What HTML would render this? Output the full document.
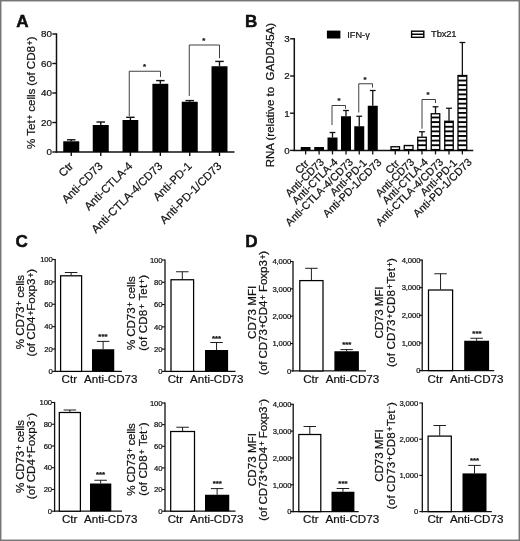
<!DOCTYPE html>
<html lang="en"><head><meta charset="utf-8"><title>Figure</title>
<style>
html,body{margin:0;padding:0;background:#fff;}
body{width:520px;height:541px;overflow:hidden;position:relative;}
svg{position:absolute;left:0;top:0;display:block;}
svg text{font-family:"Liberation Sans",Arial,Helvetica,sans-serif;stroke:#111;stroke-width:0.22px;}
</style></head><body>
<svg width="520" height="541" viewBox="0 0 520 541">
<rect x="0" y="0" width="520" height="541" fill="#fff"/>
<text x="16.20" y="26.70" font-size="17.1" text-anchor="start" font-weight="bold" fill="#111" style="stroke:#000;stroke-width:0.45px">A</text>
<line x1="56.50" y1="33.30" x2="56.50" y2="152.70" stroke="#111" stroke-width="1.5" />
<line x1="55.80" y1="152.00" x2="234.50" y2="152.00" stroke="#111" stroke-width="1.5" />
<line x1="52.30" y1="152.00" x2="56.50" y2="152.00" stroke="#111" stroke-width="1.4" />
<text x="52.00" y="155.40" font-size="9.8" text-anchor="end" fill="#111" >0</text>
<line x1="52.30" y1="122.50" x2="56.50" y2="122.50" stroke="#111" stroke-width="1.4" />
<text x="52.00" y="125.90" font-size="9.8" text-anchor="end" fill="#111" >20</text>
<line x1="52.30" y1="93.00" x2="56.50" y2="93.00" stroke="#111" stroke-width="1.4" />
<text x="52.00" y="96.40" font-size="9.8" text-anchor="end" fill="#111" >40</text>
<line x1="52.30" y1="63.50" x2="56.50" y2="63.50" stroke="#111" stroke-width="1.4" />
<text x="52.00" y="66.90" font-size="9.8" text-anchor="end" fill="#111" >60</text>
<line x1="52.30" y1="34.00" x2="56.50" y2="34.00" stroke="#111" stroke-width="1.4" />
<text x="52.00" y="37.40" font-size="9.8" text-anchor="end" fill="#111" >80</text>
<text transform="translate(34.70,92.80) rotate(-90)" font-size="11.7" text-anchor="middle" fill="#111" textLength="112.3" lengthAdjust="spacing">% Tet<tspan font-size="8.2" dy="-1.8" dx="0.9">+</tspan><tspan dy="1.8" font-size="0.1">&#160;</tspan> cells (of CD8<tspan font-size="8.2" dy="-1.8" dx="0.9">+</tspan><tspan dy="1.8" font-size="0.1">&#160;</tspan>)</text>
<line x1="71.25" y1="139.80" x2="71.25" y2="141.30" stroke="#111" stroke-width="1.4" />
<line x1="67.00" y1="139.80" x2="75.50" y2="139.80" stroke="#111" stroke-width="1.4" />
<rect x="63.25" y="141.30" width="16.00" height="10.70" fill="#000"/>
<line x1="71.25" y1="152.00" x2="71.25" y2="156.00" stroke="#111" stroke-width="1.4" />
<text transform="translate(74.05,166.70) rotate(-45)" font-size="11.4" text-anchor="end" fill="#111" >Ctr</text>
<line x1="100.75" y1="122.00" x2="100.75" y2="125.00" stroke="#111" stroke-width="1.4" />
<line x1="96.50" y1="122.00" x2="105.00" y2="122.00" stroke="#111" stroke-width="1.4" />
<rect x="92.75" y="125.00" width="16.00" height="27.00" fill="#000"/>
<line x1="100.75" y1="152.00" x2="100.75" y2="156.00" stroke="#111" stroke-width="1.4" />
<text transform="translate(103.55,166.70) rotate(-45)" font-size="11.4" text-anchor="end" fill="#111" >Anti-CD73</text>
<line x1="130.40" y1="117.30" x2="130.40" y2="120.00" stroke="#111" stroke-width="1.4" />
<line x1="126.15" y1="117.30" x2="134.65" y2="117.30" stroke="#111" stroke-width="1.4" />
<rect x="122.50" y="120.00" width="15.80" height="32.00" fill="#000"/>
<line x1="130.40" y1="152.00" x2="130.40" y2="156.00" stroke="#111" stroke-width="1.4" />
<text transform="translate(133.20,166.70) rotate(-45)" font-size="11.4" text-anchor="end" fill="#111" >Anti-CTLA-4</text>
<line x1="160.35" y1="80.60" x2="160.35" y2="83.80" stroke="#111" stroke-width="1.4" />
<line x1="156.10" y1="80.60" x2="164.60" y2="80.60" stroke="#111" stroke-width="1.4" />
<rect x="152.40" y="83.80" width="15.90" height="68.20" fill="#000"/>
<line x1="160.35" y1="152.00" x2="160.35" y2="156.00" stroke="#111" stroke-width="1.4" />
<text transform="translate(163.15,166.70) rotate(-45)" font-size="11.4" text-anchor="end" fill="#111" >Anti-CTLA-4/CD73</text>
<line x1="189.75" y1="100.60" x2="189.75" y2="101.75" stroke="#111" stroke-width="1.4" />
<line x1="185.50" y1="100.60" x2="194.00" y2="100.60" stroke="#111" stroke-width="1.4" />
<rect x="181.75" y="101.75" width="16.00" height="50.25" fill="#000"/>
<line x1="189.75" y1="152.00" x2="189.75" y2="156.00" stroke="#111" stroke-width="1.4" />
<text transform="translate(192.55,166.70) rotate(-45)" font-size="11.4" text-anchor="end" fill="#111" >Anti-PD-1</text>
<line x1="219.50" y1="61.40" x2="219.50" y2="66.25" stroke="#111" stroke-width="1.4" />
<line x1="215.25" y1="61.40" x2="223.75" y2="61.40" stroke="#111" stroke-width="1.4" />
<rect x="211.50" y="66.25" width="16.00" height="85.75" fill="#000"/>
<line x1="219.50" y1="152.00" x2="219.50" y2="156.00" stroke="#111" stroke-width="1.4" />
<text transform="translate(222.30,166.70) rotate(-45)" font-size="11.4" text-anchor="end" fill="#111" >Anti-PD-1/CD73</text>
<polyline points="129.25,116.00 129.25,71.25 160.50,71.25 160.50,77.00" fill="none" stroke="#2a2a2a" stroke-width="0.9"/>
<polyline points="189.25,96.00 189.25,45.00 219.50,45.00 219.50,58.30" fill="none" stroke="#2a2a2a" stroke-width="0.9"/>
<text x="144.60" y="69.40" font-size="7.8" text-anchor="middle" font-weight="bold" fill="#111" >*</text>
<text x="203.80" y="43.20" font-size="7.8" text-anchor="middle" font-weight="bold" fill="#111" >*</text>
<text x="245.00" y="26.60" font-size="17.1" text-anchor="start" font-weight="bold" fill="#111" style="stroke:#000;stroke-width:0.45px">B</text>
<line x1="294.30" y1="38.10" x2="294.30" y2="151.10" stroke="#111" stroke-width="1.5" />
<line x1="293.60" y1="150.40" x2="473.30" y2="150.40" stroke="#111" stroke-width="1.5" />
<line x1="290.10" y1="150.40" x2="294.30" y2="150.40" stroke="#111" stroke-width="1.4" />
<text x="289.80" y="153.80" font-size="9.8" text-anchor="end" fill="#111" >0</text>
<line x1="290.10" y1="113.20" x2="294.30" y2="113.20" stroke="#111" stroke-width="1.4" />
<text x="289.80" y="116.60" font-size="9.8" text-anchor="end" fill="#111" >1</text>
<line x1="290.10" y1="76.00" x2="294.30" y2="76.00" stroke="#111" stroke-width="1.4" />
<text x="289.80" y="79.40" font-size="9.8" text-anchor="end" fill="#111" >2</text>
<line x1="290.10" y1="38.80" x2="294.30" y2="38.80" stroke="#111" stroke-width="1.4" />
<text x="289.80" y="42.20" font-size="9.8" text-anchor="end" fill="#111" >3</text>
<text transform="translate(273.90,95.10) rotate(-90)" font-size="11.5" text-anchor="middle" fill="#111" >RNA (relative to&#160; GADD45A)</text>
<defs><pattern id="hs" patternUnits="userSpaceOnUse" x="0" y="148.9" width="10" height="4.62"><rect x="0" y="0" width="10" height="4.62" fill="#fff"/><rect x="0" y="0" width="10" height="1.9" fill="#000"/></pattern></defs>
<rect x="300.75" y="147.00" width="9.75" height="3.40" fill="#000"/>
<line x1="305.62" y1="150.40" x2="305.62" y2="154.40" stroke="#111" stroke-width="1.3" />
<text transform="translate(299.40,174.43) rotate(-45)" font-size="10.7" text-anchor="start" fill="#111" textLength="14.26" lengthAdjust="spacing">Ctr</text>
<rect x="314.25" y="147.00" width="9.75" height="3.40" fill="#000"/>
<line x1="319.12" y1="150.40" x2="319.12" y2="154.40" stroke="#111" stroke-width="1.3" />
<text transform="translate(289.71,197.62) rotate(-45)" font-size="10.7" text-anchor="start" fill="#111" textLength="49.36" lengthAdjust="spacing">Anti-CD73</text>
<line x1="332.50" y1="132.50" x2="332.50" y2="137.50" stroke="#111" stroke-width="1.3" />
<line x1="329.60" y1="132.50" x2="335.40" y2="132.50" stroke="#111" stroke-width="1.3" />
<rect x="327.50" y="137.50" width="10.00" height="12.90" fill="#000"/>
<line x1="332.50" y1="150.40" x2="332.50" y2="154.40" stroke="#111" stroke-width="1.3" />
<text transform="translate(296.45,204.75) rotate(-45)" font-size="10.7" text-anchor="start" fill="#111" textLength="59.36" lengthAdjust="spacing">Anti-CTLA-4</text>
<line x1="346.00" y1="110.50" x2="346.00" y2="116.25" stroke="#111" stroke-width="1.3" />
<line x1="343.10" y1="110.50" x2="348.90" y2="110.50" stroke="#111" stroke-width="1.3" />
<rect x="341.00" y="116.25" width="10.00" height="34.15" fill="#000"/>
<line x1="346.00" y1="150.40" x2="346.00" y2="154.40" stroke="#111" stroke-width="1.3" />
<text transform="translate(289.85,226.65) rotate(-45)" font-size="10.7" text-anchor="start" fill="#111" textLength="90.19" lengthAdjust="spacing">Anti-CTLA-4/CD73</text>
<line x1="359.25" y1="116.25" x2="359.25" y2="126.25" stroke="#111" stroke-width="1.3" />
<line x1="356.35" y1="116.25" x2="362.15" y2="116.25" stroke="#111" stroke-width="1.3" />
<rect x="354.25" y="126.25" width="10.00" height="24.15" fill="#000"/>
<line x1="359.25" y1="150.40" x2="359.25" y2="154.40" stroke="#111" stroke-width="1.3" />
<text transform="translate(334.39,196.56) rotate(-45)" font-size="10.7" text-anchor="start" fill="#111" textLength="46.68" lengthAdjust="spacing">Anti-PD-1</text>
<line x1="372.75" y1="90.50" x2="372.75" y2="105.75" stroke="#111" stroke-width="1.3" />
<line x1="369.85" y1="90.50" x2="375.65" y2="90.50" stroke="#111" stroke-width="1.3" />
<rect x="367.75" y="105.75" width="10.00" height="44.65" fill="#000"/>
<line x1="372.75" y1="150.40" x2="372.75" y2="154.40" stroke="#111" stroke-width="1.3" />
<text transform="translate(327.35,217.90) rotate(-45)" font-size="10.7" text-anchor="start" fill="#111" textLength="77.71" lengthAdjust="spacing">Anti-PD-1/CD73</text>
<rect x="391.00" y="146.75" width="8.50" height="3.65" fill="url(#hs)" stroke="#000" stroke-width="1.3"/>
<line x1="395.25" y1="150.40" x2="395.25" y2="154.40" stroke="#111" stroke-width="1.3" />
<text transform="translate(389.82,174.43) rotate(-45)" font-size="10.7" text-anchor="start" fill="#111" textLength="14.26" lengthAdjust="spacing">Ctr</text>
<rect x="404.25" y="145.50" width="8.75" height="4.90" fill="url(#hs)" stroke="#000" stroke-width="1.3"/>
<line x1="408.62" y1="150.40" x2="408.62" y2="154.40" stroke="#111" stroke-width="1.3" />
<text transform="translate(380.01,197.62) rotate(-45)" font-size="10.7" text-anchor="start" fill="#111" textLength="49.36" lengthAdjust="spacing">Anti-CD73</text>
<line x1="422.00" y1="131.75" x2="422.00" y2="136.75" stroke="#111" stroke-width="1.3" />
<line x1="419.10" y1="131.75" x2="424.90" y2="131.75" stroke="#111" stroke-width="1.3" />
<rect x="417.75" y="137.25" width="8.50" height="13.15" fill="url(#hs)" stroke="#000" stroke-width="1.3"/>
<line x1="422.00" y1="150.40" x2="422.00" y2="154.40" stroke="#111" stroke-width="1.3" />
<text transform="translate(386.75,204.75) rotate(-45)" font-size="10.7" text-anchor="start" fill="#111" textLength="59.36" lengthAdjust="spacing">Anti-CTLA-4</text>
<line x1="435.50" y1="106.75" x2="435.50" y2="113.25" stroke="#111" stroke-width="1.3" />
<line x1="432.60" y1="106.75" x2="438.40" y2="106.75" stroke="#111" stroke-width="1.3" />
<rect x="431.25" y="113.75" width="8.50" height="36.65" fill="url(#hs)" stroke="#000" stroke-width="1.3"/>
<line x1="435.50" y1="150.40" x2="435.50" y2="154.40" stroke="#111" stroke-width="1.3" />
<text transform="translate(380.15,226.65) rotate(-45)" font-size="10.7" text-anchor="start" fill="#111" textLength="90.19" lengthAdjust="spacing">Anti-CTLA-4/CD73</text>
<line x1="449.00" y1="108.25" x2="449.00" y2="120.75" stroke="#111" stroke-width="1.3" />
<line x1="446.10" y1="108.25" x2="451.90" y2="108.25" stroke="#111" stroke-width="1.3" />
<rect x="444.75" y="121.25" width="8.50" height="29.15" fill="url(#hs)" stroke="#000" stroke-width="1.3"/>
<line x1="449.00" y1="150.40" x2="449.00" y2="154.40" stroke="#111" stroke-width="1.3" />
<text transform="translate(424.74,196.46) rotate(-45)" font-size="10.7" text-anchor="start" fill="#111" textLength="46.68" lengthAdjust="spacing">Anti-PD-1</text>
<line x1="462.38" y1="42.50" x2="462.38" y2="75.00" stroke="#111" stroke-width="1.3" />
<line x1="459.48" y1="42.50" x2="465.27" y2="42.50" stroke="#111" stroke-width="1.3" />
<rect x="458.00" y="75.50" width="8.75" height="74.90" fill="url(#hs)" stroke="#000" stroke-width="1.3"/>
<line x1="462.38" y1="150.40" x2="462.38" y2="154.40" stroke="#111" stroke-width="1.3" />
<text transform="translate(417.58,217.80) rotate(-45)" font-size="10.7" text-anchor="start" fill="#111" textLength="77.71" lengthAdjust="spacing">Anti-PD-1/CD73</text>
<polyline points="332.00,125.00 332.00,105.50 345.50,105.50 345.50,108.75" fill="none" stroke="#2a2a2a" stroke-width="0.9"/>
<polyline points="358.75,112.50 358.75,83.75 372.50,83.75 372.50,87.50" fill="none" stroke="#2a2a2a" stroke-width="0.9"/>
<polyline points="422.00,128.75 422.00,99.50 435.50,99.50 435.50,103.00" fill="none" stroke="#2a2a2a" stroke-width="0.9"/>
<text x="339.00" y="102.90" font-size="7.8" text-anchor="middle" font-weight="bold" fill="#111" >*</text>
<text x="365.00" y="81.90" font-size="7.8" text-anchor="middle" font-weight="bold" fill="#111" >*</text>
<text x="428.00" y="97.20" font-size="7.8" text-anchor="middle" font-weight="bold" fill="#111" >*</text>
<rect x="326.90" y="30.60" width="13.50" height="7.90" fill="#000"/>
<text x="347.30" y="38.00" font-size="9.2" text-anchor="start" fill="#111" >IFN-&#947;</text>
<rect x="411.60" y="31.20" width="12.20" height="6.10" fill="#fff" stroke="#000" stroke-width="1.4"/>
<line x1="411.60" y1="34.25" x2="423.80" y2="34.25" stroke="#000" stroke-width="1.5" />
<text x="431.10" y="37.20" font-size="9.4" text-anchor="start" fill="#111" letter-spacing="-0.15">Tbx21</text>
<text x="15.50" y="246.80" font-size="17.1" text-anchor="start" font-weight="bold" fill="#111" style="stroke:#000;stroke-width:0.45px">C</text>
<text x="245.20" y="246.80" font-size="17.1" text-anchor="start" font-weight="bold" fill="#111" style="stroke:#000;stroke-width:0.45px">D</text>
<line x1="55.20" y1="258.90" x2="55.20" y2="372.00" stroke="#111" stroke-width="1.3" />
<line x1="54.60" y1="371.40" x2="122.00" y2="371.40" stroke="#111" stroke-width="1.3" />
<line x1="52.20" y1="371.40" x2="55.20" y2="371.40" stroke="#111" stroke-width="1.1" />
<text x="52.60" y="374.15" font-size="7.7" text-anchor="end" fill="#111" letter-spacing="-0.12">0</text>
<line x1="52.20" y1="349.02" x2="55.20" y2="349.02" stroke="#111" stroke-width="1.1" />
<text x="52.60" y="351.77" font-size="7.7" text-anchor="end" fill="#111" letter-spacing="-0.12">20</text>
<line x1="52.20" y1="326.64" x2="55.20" y2="326.64" stroke="#111" stroke-width="1.1" />
<text x="52.60" y="329.39" font-size="7.7" text-anchor="end" fill="#111" letter-spacing="-0.12">40</text>
<line x1="52.20" y1="304.26" x2="55.20" y2="304.26" stroke="#111" stroke-width="1.1" />
<text x="52.60" y="307.01" font-size="7.7" text-anchor="end" fill="#111" letter-spacing="-0.12">60</text>
<line x1="52.20" y1="281.88" x2="55.20" y2="281.88" stroke="#111" stroke-width="1.1" />
<text x="52.60" y="284.63" font-size="7.7" text-anchor="end" fill="#111" letter-spacing="-0.12">80</text>
<line x1="52.20" y1="259.50" x2="55.20" y2="259.50" stroke="#111" stroke-width="1.1" />
<text x="52.60" y="262.25" font-size="7.7" text-anchor="end" fill="#111" letter-spacing="-0.12">100</text>
<line x1="71.10" y1="272.50" x2="71.10" y2="275.30" stroke="#111" stroke-width="0.95" />
<line x1="64.85" y1="272.50" x2="77.35" y2="272.50" stroke="#111" stroke-width="0.95" />
<rect x="60.60" y="275.80" width="21.00" height="95.60" fill="#fff" stroke="#000" stroke-width="1.25"/>
<line x1="103.12" y1="341.40" x2="103.12" y2="349.25" stroke="#111" stroke-width="0.95" />
<line x1="96.88" y1="341.40" x2="109.38" y2="341.40" stroke="#111" stroke-width="0.95" />
<rect x="92.00" y="349.25" width="22.25" height="22.15" fill="#000"/>
<text x="102.90" y="339.40" font-size="7.8" text-anchor="middle" font-weight="bold" fill="#111" >***</text>
<text x="61.60" y="383.20" font-size="11.6" text-anchor="start" fill="#111" >Ctr</text>
<text x="84.00" y="383.20" font-size="11.6" text-anchor="start" fill="#111" >Anti-CD73</text>
<text transform="translate(24.10,312.10) rotate(-90)" font-size="11.6" text-anchor="middle" fill="#111" textLength="74.10" lengthAdjust="spacing">% CD73<tspan font-size="8.2" dy="-1.8" dx="0.9">+</tspan><tspan dy="1.8" font-size="0.1">&#160;</tspan> cells</text>
<text transform="translate(35.30,312.70) rotate(-90)" font-size="11.6" text-anchor="middle" fill="#111" textLength="87.60" lengthAdjust="spacing">(of CD4<tspan font-size="8.2" dy="-1.8" dx="0.9">+</tspan><tspan dy="1.8" font-size="0.1">&#160;</tspan>Foxp3<tspan font-size="8.2" dy="-1.8" dx="0.9">+</tspan><tspan dy="1.8" font-size="0.1">&#160;</tspan>)</text>
<line x1="165.00" y1="259.40" x2="165.00" y2="372.00" stroke="#111" stroke-width="1.3" />
<line x1="164.40" y1="371.40" x2="235.50" y2="371.40" stroke="#111" stroke-width="1.3" />
<line x1="162.00" y1="371.40" x2="165.00" y2="371.40" stroke="#111" stroke-width="1.1" />
<text x="162.40" y="374.15" font-size="7.7" text-anchor="end" fill="#111" letter-spacing="-0.12">0</text>
<line x1="162.00" y1="349.12" x2="165.00" y2="349.12" stroke="#111" stroke-width="1.1" />
<text x="162.40" y="351.87" font-size="7.7" text-anchor="end" fill="#111" letter-spacing="-0.12">20</text>
<line x1="162.00" y1="326.84" x2="165.00" y2="326.84" stroke="#111" stroke-width="1.1" />
<text x="162.40" y="329.59" font-size="7.7" text-anchor="end" fill="#111" letter-spacing="-0.12">40</text>
<line x1="162.00" y1="304.56" x2="165.00" y2="304.56" stroke="#111" stroke-width="1.1" />
<text x="162.40" y="307.31" font-size="7.7" text-anchor="end" fill="#111" letter-spacing="-0.12">60</text>
<line x1="162.00" y1="282.28" x2="165.00" y2="282.28" stroke="#111" stroke-width="1.1" />
<text x="162.40" y="285.03" font-size="7.7" text-anchor="end" fill="#111" letter-spacing="-0.12">80</text>
<line x1="162.00" y1="260.00" x2="165.00" y2="260.00" stroke="#111" stroke-width="1.1" />
<text x="162.40" y="262.75" font-size="7.7" text-anchor="end" fill="#111" letter-spacing="-0.12">100</text>
<line x1="182.30" y1="271.75" x2="182.30" y2="279.25" stroke="#111" stroke-width="0.95" />
<line x1="176.05" y1="271.75" x2="188.55" y2="271.75" stroke="#111" stroke-width="0.95" />
<rect x="171.00" y="279.75" width="22.60" height="91.65" fill="#fff" stroke="#000" stroke-width="1.25"/>
<line x1="216.55" y1="342.50" x2="216.55" y2="350.00" stroke="#111" stroke-width="0.95" />
<line x1="210.30" y1="342.50" x2="222.80" y2="342.50" stroke="#111" stroke-width="0.95" />
<rect x="205.00" y="350.00" width="23.10" height="21.40" fill="#000"/>
<text x="216.60" y="340.80" font-size="7.8" text-anchor="middle" font-weight="bold" fill="#111" >***</text>
<text x="167.70" y="383.20" font-size="11.6" text-anchor="start" fill="#111" >Ctr</text>
<text x="190.00" y="383.20" font-size="11.6" text-anchor="start" fill="#111" >Anti-CD73</text>
<text transform="translate(135.00,313.10) rotate(-90)" font-size="11.6" text-anchor="middle" fill="#111" textLength="73.70" lengthAdjust="spacing">% CD73<tspan font-size="8.2" dy="-1.8" dx="0.9">+</tspan><tspan dy="1.8" font-size="0.1">&#160;</tspan> cells</text>
<text transform="translate(146.50,312.75) rotate(-90)" font-size="11.6" text-anchor="middle" fill="#111" textLength="75.90" lengthAdjust="spacing">(of CD8<tspan font-size="8.2" dy="-1.8" dx="0.9">+</tspan><tspan dy="1.8" font-size="0.1">&#160;</tspan> Tet<tspan font-size="8.2" dy="-1.8" dx="0.9">+</tspan><tspan dy="1.8" font-size="0.1">&#160;</tspan>)</text>
<line x1="54.60" y1="401.90" x2="54.60" y2="511.80" stroke="#111" stroke-width="1.3" />
<line x1="54.00" y1="511.20" x2="122.00" y2="511.20" stroke="#111" stroke-width="1.3" />
<line x1="51.60" y1="511.20" x2="54.60" y2="511.20" stroke="#111" stroke-width="1.1" />
<text x="52.00" y="513.95" font-size="7.7" text-anchor="end" fill="#111" letter-spacing="-0.12">0</text>
<line x1="51.60" y1="489.46" x2="54.60" y2="489.46" stroke="#111" stroke-width="1.1" />
<text x="52.00" y="492.21" font-size="7.7" text-anchor="end" fill="#111" letter-spacing="-0.12">20</text>
<line x1="51.60" y1="467.72" x2="54.60" y2="467.72" stroke="#111" stroke-width="1.1" />
<text x="52.00" y="470.47" font-size="7.7" text-anchor="end" fill="#111" letter-spacing="-0.12">40</text>
<line x1="51.60" y1="445.98" x2="54.60" y2="445.98" stroke="#111" stroke-width="1.1" />
<text x="52.00" y="448.73" font-size="7.7" text-anchor="end" fill="#111" letter-spacing="-0.12">60</text>
<line x1="51.60" y1="424.24" x2="54.60" y2="424.24" stroke="#111" stroke-width="1.1" />
<text x="52.00" y="426.99" font-size="7.7" text-anchor="end" fill="#111" letter-spacing="-0.12">80</text>
<line x1="51.60" y1="402.50" x2="54.60" y2="402.50" stroke="#111" stroke-width="1.1" />
<text x="52.00" y="405.25" font-size="7.7" text-anchor="end" fill="#111" letter-spacing="-0.12">100</text>
<line x1="69.85" y1="410.00" x2="69.85" y2="412.00" stroke="#111" stroke-width="0.95" />
<line x1="63.60" y1="410.00" x2="76.10" y2="410.00" stroke="#111" stroke-width="0.95" />
<rect x="59.30" y="412.50" width="21.10" height="98.70" fill="#fff" stroke="#000" stroke-width="1.25"/>
<line x1="100.65" y1="480.25" x2="100.65" y2="483.50" stroke="#111" stroke-width="0.95" />
<line x1="94.40" y1="480.25" x2="106.90" y2="480.25" stroke="#111" stroke-width="0.95" />
<rect x="90.00" y="483.50" width="21.30" height="27.70" fill="#000"/>
<text x="100.60" y="477.10" font-size="7.8" text-anchor="middle" font-weight="bold" fill="#111" >***</text>
<text x="62.00" y="522.60" font-size="11.6" text-anchor="start" fill="#111" >Ctr</text>
<text x="84.00" y="522.60" font-size="11.6" text-anchor="start" fill="#111" >Anti-CD73</text>
<text transform="translate(24.00,456.55) rotate(-90)" font-size="11.6" text-anchor="middle" fill="#111" textLength="73.00" lengthAdjust="spacing">% CD73<tspan font-size="8.2" dy="-1.8" dx="0.9">+</tspan><tspan dy="1.8" font-size="0.1">&#160;</tspan> cells</text>
<text transform="translate(35.00,456.00) rotate(-90)" font-size="11.6" text-anchor="middle" fill="#111" textLength="86.40" lengthAdjust="spacing">(of CD4<tspan font-size="8.2" dy="-1.8" dx="0.9">+</tspan><tspan dy="1.8" font-size="0.1">&#160;</tspan>Foxp3<tspan font-size="5.5" dy="-4.0" dx="0.9">&#8722;</tspan><tspan dy="4.0" font-size="0.1">&#160;</tspan>)</text>
<line x1="165.00" y1="402.40" x2="165.00" y2="511.80" stroke="#111" stroke-width="1.3" />
<line x1="164.40" y1="511.20" x2="235.50" y2="511.20" stroke="#111" stroke-width="1.3" />
<line x1="162.00" y1="511.20" x2="165.00" y2="511.20" stroke="#111" stroke-width="1.1" />
<text x="162.40" y="513.95" font-size="7.7" text-anchor="end" fill="#111" letter-spacing="-0.12">0</text>
<line x1="162.00" y1="489.56" x2="165.00" y2="489.56" stroke="#111" stroke-width="1.1" />
<text x="162.40" y="492.31" font-size="7.7" text-anchor="end" fill="#111" letter-spacing="-0.12">20</text>
<line x1="162.00" y1="467.92" x2="165.00" y2="467.92" stroke="#111" stroke-width="1.1" />
<text x="162.40" y="470.67" font-size="7.7" text-anchor="end" fill="#111" letter-spacing="-0.12">40</text>
<line x1="162.00" y1="446.28" x2="165.00" y2="446.28" stroke="#111" stroke-width="1.1" />
<text x="162.40" y="449.03" font-size="7.7" text-anchor="end" fill="#111" letter-spacing="-0.12">60</text>
<line x1="162.00" y1="424.64" x2="165.00" y2="424.64" stroke="#111" stroke-width="1.1" />
<text x="162.40" y="427.39" font-size="7.7" text-anchor="end" fill="#111" letter-spacing="-0.12">80</text>
<line x1="162.00" y1="403.00" x2="165.00" y2="403.00" stroke="#111" stroke-width="1.1" />
<text x="162.40" y="405.75" font-size="7.7" text-anchor="end" fill="#111" letter-spacing="-0.12">100</text>
<line x1="182.60" y1="427.25" x2="182.60" y2="431.00" stroke="#111" stroke-width="0.95" />
<line x1="176.35" y1="427.25" x2="188.85" y2="427.25" stroke="#111" stroke-width="0.95" />
<rect x="170.70" y="431.50" width="23.80" height="79.70" fill="#fff" stroke="#000" stroke-width="1.25"/>
<line x1="217.12" y1="488.60" x2="217.12" y2="494.75" stroke="#111" stroke-width="0.95" />
<line x1="210.88" y1="488.60" x2="223.38" y2="488.60" stroke="#111" stroke-width="0.95" />
<rect x="205.00" y="494.75" width="24.25" height="16.45" fill="#000"/>
<text x="217.20" y="486.40" font-size="7.8" text-anchor="middle" font-weight="bold" fill="#111" >***</text>
<text x="167.70" y="522.60" font-size="11.6" text-anchor="start" fill="#111" >Ctr</text>
<text x="190.00" y="522.60" font-size="11.6" text-anchor="start" fill="#111" >Anti-CD73</text>
<text transform="translate(135.00,459.45) rotate(-90)" font-size="11.6" text-anchor="middle" fill="#111" textLength="72.60" lengthAdjust="spacing">% CD73<tspan font-size="8.2" dy="-1.8" dx="0.9">+</tspan><tspan dy="1.8" font-size="0.1">&#160;</tspan> cells</text>
<text transform="translate(146.50,459.05) rotate(-90)" font-size="11.6" text-anchor="middle" fill="#111" textLength="73.30" lengthAdjust="spacing">(of CD8<tspan font-size="8.2" dy="-1.8" dx="0.9">+</tspan><tspan dy="1.8" font-size="0.1">&#160;</tspan> Tet<tspan font-size="5.5" dy="-4.0" dx="0.9">&#8722;</tspan><tspan dy="4.0" font-size="0.1">&#160;</tspan>)</text>
<line x1="293.00" y1="260.90" x2="293.00" y2="371.50" stroke="#111" stroke-width="1.3" />
<line x1="292.40" y1="370.90" x2="366.00" y2="370.90" stroke="#111" stroke-width="1.3" />
<line x1="290.00" y1="370.90" x2="293.00" y2="370.90" stroke="#111" stroke-width="1.1" />
<text x="291.10" y="373.65" font-size="7.7" text-anchor="end" fill="#111" letter-spacing="-0.12">0</text>
<line x1="290.00" y1="343.55" x2="293.00" y2="343.55" stroke="#111" stroke-width="1.1" />
<text x="291.10" y="346.30" font-size="7.7" text-anchor="end" fill="#111" letter-spacing="-0.12">1,000</text>
<line x1="290.00" y1="316.20" x2="293.00" y2="316.20" stroke="#111" stroke-width="1.1" />
<text x="291.10" y="318.95" font-size="7.7" text-anchor="end" fill="#111" letter-spacing="-0.12">2,000</text>
<line x1="290.00" y1="288.85" x2="293.00" y2="288.85" stroke="#111" stroke-width="1.1" />
<text x="291.10" y="291.60" font-size="7.7" text-anchor="end" fill="#111" letter-spacing="-0.12">3,000</text>
<line x1="290.00" y1="261.50" x2="293.00" y2="261.50" stroke="#111" stroke-width="1.1" />
<text x="291.10" y="264.25" font-size="7.7" text-anchor="end" fill="#111" letter-spacing="-0.12">4,000</text>
<line x1="311.40" y1="268.30" x2="311.40" y2="280.10" stroke="#111" stroke-width="0.95" />
<line x1="305.15" y1="268.30" x2="317.65" y2="268.30" stroke="#111" stroke-width="0.95" />
<rect x="299.80" y="280.60" width="23.20" height="90.30" fill="#fff" stroke="#000" stroke-width="1.25"/>
<line x1="346.65" y1="349.60" x2="346.65" y2="351.25" stroke="#111" stroke-width="0.95" />
<line x1="340.40" y1="349.60" x2="352.90" y2="349.60" stroke="#111" stroke-width="0.95" />
<rect x="334.40" y="351.25" width="24.50" height="19.65" fill="#000"/>
<text x="346.80" y="347.40" font-size="7.8" text-anchor="middle" font-weight="bold" fill="#111" >***</text>
<text x="303.20" y="383.20" font-size="11.6" text-anchor="start" fill="#111" >Ctr</text>
<text x="325.70" y="383.20" font-size="11.6" text-anchor="start" fill="#111" >Anti-CD73</text>
<text transform="translate(255.80,312.30) rotate(-90)" font-size="11.6" text-anchor="middle" fill="#111" textLength="53.20" lengthAdjust="spacing">CD73 MFI</text>
<text transform="translate(267.30,312.85) rotate(-90)" font-size="11.6" text-anchor="middle" fill="#111" textLength="124.10" lengthAdjust="spacing">(of CD73<tspan font-size="8.2" dy="-1.8" dx="0.9">+</tspan><tspan dy="1.8" font-size="0.1">&#160;</tspan>CD4<tspan font-size="8.2" dy="-1.8" dx="0.9">+</tspan><tspan dy="1.8" font-size="0.1">&#160;</tspan> Foxp3<tspan font-size="8.2" dy="-1.8" dx="0.9">+</tspan><tspan dy="1.8" font-size="0.1">&#160;</tspan>)</text>
<line x1="422.20" y1="259.40" x2="422.20" y2="371.20" stroke="#111" stroke-width="1.3" />
<line x1="421.60" y1="370.60" x2="494.20" y2="370.60" stroke="#111" stroke-width="1.3" />
<line x1="419.20" y1="370.60" x2="422.20" y2="370.60" stroke="#111" stroke-width="1.1" />
<text x="420.30" y="373.35" font-size="7.7" text-anchor="end" fill="#111" letter-spacing="-0.12">0</text>
<line x1="419.20" y1="342.95" x2="422.20" y2="342.95" stroke="#111" stroke-width="1.1" />
<text x="420.30" y="345.70" font-size="7.7" text-anchor="end" fill="#111" letter-spacing="-0.12">1,000</text>
<line x1="419.20" y1="315.30" x2="422.20" y2="315.30" stroke="#111" stroke-width="1.1" />
<text x="420.30" y="318.05" font-size="7.7" text-anchor="end" fill="#111" letter-spacing="-0.12">2,000</text>
<line x1="419.20" y1="287.65" x2="422.20" y2="287.65" stroke="#111" stroke-width="1.1" />
<text x="420.30" y="290.40" font-size="7.7" text-anchor="end" fill="#111" letter-spacing="-0.12">3,000</text>
<line x1="419.20" y1="260.00" x2="422.20" y2="260.00" stroke="#111" stroke-width="1.1" />
<text x="420.30" y="262.75" font-size="7.7" text-anchor="end" fill="#111" letter-spacing="-0.12">4,000</text>
<line x1="440.55" y1="273.75" x2="440.55" y2="289.50" stroke="#111" stroke-width="0.95" />
<line x1="434.30" y1="273.75" x2="446.80" y2="273.75" stroke="#111" stroke-width="0.95" />
<rect x="428.50" y="290.00" width="24.10" height="80.60" fill="#fff" stroke="#000" stroke-width="1.25"/>
<line x1="476.65" y1="338.25" x2="476.65" y2="340.75" stroke="#111" stroke-width="0.95" />
<line x1="470.40" y1="338.25" x2="482.90" y2="338.25" stroke="#111" stroke-width="0.95" />
<rect x="464.20" y="340.75" width="24.90" height="29.85" fill="#000"/>
<text x="476.90" y="335.90" font-size="7.8" text-anchor="middle" font-weight="bold" fill="#111" >***</text>
<text x="427.60" y="383.20" font-size="11.6" text-anchor="start" fill="#111" >Ctr</text>
<text x="450.00" y="383.20" font-size="11.6" text-anchor="start" fill="#111" >Anti-CD73</text>
<text transform="translate(383.40,312.50) rotate(-90)" font-size="11.6" text-anchor="middle" fill="#111" textLength="52.00" lengthAdjust="spacing">CD73 MFI</text>
<text transform="translate(394.80,312.50) rotate(-90)" font-size="11.6" text-anchor="middle" fill="#111" textLength="108.80" lengthAdjust="spacing">(of CD73<tspan font-size="8.2" dy="-1.8" dx="0.9">+</tspan><tspan dy="1.8" font-size="0.1">&#160;</tspan>CD8<tspan font-size="8.2" dy="-1.8" dx="0.9">+</tspan><tspan dy="1.8" font-size="0.1">&#160;</tspan>Tet<tspan font-size="8.2" dy="-1.8" dx="0.9">+</tspan><tspan dy="1.8" font-size="0.1">&#160;</tspan>)</text>
<line x1="293.20" y1="403.65" x2="293.20" y2="512.20" stroke="#111" stroke-width="1.3" />
<line x1="292.60" y1="511.60" x2="358.70" y2="511.60" stroke="#111" stroke-width="1.3" />
<line x1="290.20" y1="511.60" x2="293.20" y2="511.60" stroke="#111" stroke-width="1.1" />
<text x="291.30" y="514.35" font-size="7.7" text-anchor="end" fill="#111" letter-spacing="-0.12">0</text>
<line x1="290.20" y1="484.76" x2="293.20" y2="484.76" stroke="#111" stroke-width="1.1" />
<text x="291.30" y="487.51" font-size="7.7" text-anchor="end" fill="#111" letter-spacing="-0.12">1,000</text>
<line x1="290.20" y1="457.93" x2="293.20" y2="457.93" stroke="#111" stroke-width="1.1" />
<text x="291.30" y="460.68" font-size="7.7" text-anchor="end" fill="#111" letter-spacing="-0.12">2,000</text>
<line x1="290.20" y1="431.09" x2="293.20" y2="431.09" stroke="#111" stroke-width="1.1" />
<text x="291.30" y="433.84" font-size="7.7" text-anchor="end" fill="#111" letter-spacing="-0.12">3,000</text>
<line x1="290.20" y1="404.25" x2="293.20" y2="404.25" stroke="#111" stroke-width="1.1" />
<text x="291.30" y="407.00" font-size="7.7" text-anchor="end" fill="#111" letter-spacing="-0.12">4,000</text>
<line x1="309.80" y1="426.50" x2="309.80" y2="434.00" stroke="#111" stroke-width="0.95" />
<line x1="303.55" y1="426.50" x2="316.05" y2="426.50" stroke="#111" stroke-width="0.95" />
<rect x="298.80" y="434.50" width="22.00" height="77.10" fill="#fff" stroke="#000" stroke-width="1.25"/>
<line x1="342.95" y1="488.50" x2="342.95" y2="491.75" stroke="#111" stroke-width="0.95" />
<line x1="336.70" y1="488.50" x2="349.20" y2="488.50" stroke="#111" stroke-width="0.95" />
<rect x="331.50" y="491.75" width="22.90" height="19.85" fill="#000"/>
<text x="342.90" y="486.40" font-size="7.8" text-anchor="middle" font-weight="bold" fill="#111" >***</text>
<text x="303.10" y="522.60" font-size="11.6" text-anchor="start" fill="#111" >Ctr</text>
<text x="325.60" y="522.60" font-size="11.6" text-anchor="start" fill="#111" >Anti-CD73</text>
<text transform="translate(255.80,459.60) rotate(-90)" font-size="11.6" text-anchor="middle" fill="#111" textLength="53.20" lengthAdjust="spacing">CD73 MFI</text>
<text transform="translate(266.90,459.80) rotate(-90)" font-size="11.6" text-anchor="middle" fill="#111" textLength="121.80" lengthAdjust="spacing">(of CD73<tspan font-size="8.2" dy="-1.8" dx="0.9">+</tspan><tspan dy="1.8" font-size="0.1">&#160;</tspan>CD4<tspan font-size="8.2" dy="-1.8" dx="0.9">+</tspan><tspan dy="1.8" font-size="0.1">&#160;</tspan> Foxp3<tspan font-size="5.5" dy="-4.0" dx="0.9">&#8722;</tspan><tspan dy="4.0" font-size="0.1">&#160;</tspan>)</text>
<line x1="422.30" y1="402.40" x2="422.30" y2="512.20" stroke="#111" stroke-width="1.3" />
<line x1="421.70" y1="511.60" x2="491.80" y2="511.60" stroke="#111" stroke-width="1.3" />
<line x1="419.30" y1="511.60" x2="422.30" y2="511.60" stroke="#111" stroke-width="1.1" />
<text x="418.10" y="514.35" font-size="7.7" text-anchor="end" fill="#111" letter-spacing="-0.12">0</text>
<line x1="419.30" y1="475.40" x2="422.30" y2="475.40" stroke="#111" stroke-width="1.1" />
<text x="418.10" y="478.15" font-size="7.7" text-anchor="end" fill="#111" letter-spacing="-0.12">1,000</text>
<line x1="419.30" y1="439.20" x2="422.30" y2="439.20" stroke="#111" stroke-width="1.1" />
<text x="418.10" y="441.95" font-size="7.7" text-anchor="end" fill="#111" letter-spacing="-0.12">2,000</text>
<line x1="419.30" y1="403.00" x2="422.30" y2="403.00" stroke="#111" stroke-width="1.1" />
<text x="418.10" y="405.75" font-size="7.7" text-anchor="end" fill="#111" letter-spacing="-0.12">3,000</text>
<line x1="439.70" y1="425.50" x2="439.70" y2="435.60" stroke="#111" stroke-width="0.95" />
<line x1="433.45" y1="425.50" x2="445.95" y2="425.50" stroke="#111" stroke-width="0.95" />
<rect x="428.10" y="436.10" width="23.20" height="75.50" fill="#fff" stroke="#000" stroke-width="1.25"/>
<line x1="474.50" y1="465.40" x2="474.50" y2="473.40" stroke="#111" stroke-width="0.95" />
<line x1="468.25" y1="465.40" x2="480.75" y2="465.40" stroke="#111" stroke-width="0.95" />
<rect x="462.50" y="473.40" width="24.00" height="38.20" fill="#000"/>
<text x="474.50" y="462.90" font-size="7.8" text-anchor="middle" font-weight="bold" fill="#111" >***</text>
<text x="427.40" y="522.60" font-size="11.6" text-anchor="start" fill="#111" >Ctr</text>
<text x="449.90" y="522.60" font-size="11.6" text-anchor="start" fill="#111" >Anti-CD73</text>
<text transform="translate(382.60,455.50) rotate(-90)" font-size="11.6" text-anchor="middle" fill="#111" textLength="52.60" lengthAdjust="spacing">CD73 MFI</text>
<text transform="translate(394.50,455.60) rotate(-90)" font-size="11.6" text-anchor="middle" fill="#111" textLength="107.20" lengthAdjust="spacing">(of CD73<tspan font-size="8.2" dy="-1.8" dx="0.9">+</tspan><tspan dy="1.8" font-size="0.1">&#160;</tspan>CD8<tspan font-size="8.2" dy="-1.8" dx="0.9">+</tspan><tspan dy="1.8" font-size="0.1">&#160;</tspan>Tet<tspan font-size="5.5" dy="-4.0" dx="0.9">&#8722;</tspan><tspan dy="4.0" font-size="0.1">&#160;</tspan>)</text>
<rect x="0.7" y="0.7" width="518.6" height="539.6" fill="none" stroke="#767676" stroke-width="1.5"/>
</svg>
</body></html>
